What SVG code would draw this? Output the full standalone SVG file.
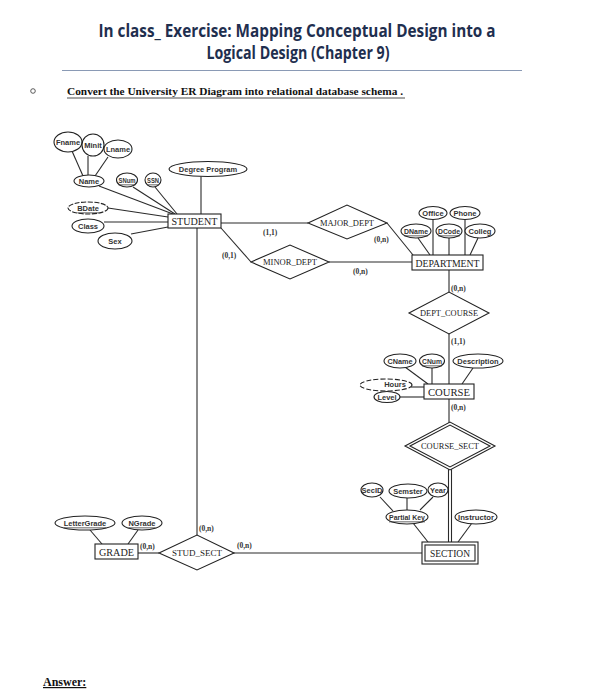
<svg xmlns="http://www.w3.org/2000/svg" width="594" height="700" viewBox="0 0 594 700">
<style>
.bg{fill:#ffffff}
.title{font-family:"Open Sans","Noto Sans","Liberation Sans",sans-serif;font-weight:700;font-size:17px;fill:#1f2f4f;text-anchor:middle}
.intro{font-family:"Liberation Serif",serif;font-weight:700;font-size:11px;fill:#111}
.ent rect{fill:#fff;stroke:#222;stroke-width:1.1}
.ent text{font-family:"Liberation Serif",serif;font-size:10.5px;fill:#222;text-anchor:middle;dominant-baseline:central}
.rel polygon{fill:#fff;stroke:#222;stroke-width:1.1}
.rel text{font-family:"Liberation Serif",serif;font-size:8px;fill:#222;text-anchor:middle;dominant-baseline:central}
.att ellipse{fill:#fff;stroke:#222;stroke-width:1.1}
.att text{font-family:"Liberation Sans",Arial,sans-serif;font-size:7.5px;font-weight:700;fill:#333;text-anchor:middle;dominant-baseline:central}
.key{text-decoration:underline}
.conn line{stroke:#2a2a2a;stroke-width:1.1;fill:none}
.card{font-family:"Liberation Serif",serif;font-size:7.5px;font-weight:700;fill:#333}
</style>
<rect class="bg" x="0" y="0" width="594" height="700"/>

<g id="header">
<text class="title" x="297" y="37" textLength="397" lengthAdjust="spacingAndGlyphs">In class_ Exercise: Mapping Conceptual Design into a</text>
<text class="title" x="298" y="59" textLength="183" lengthAdjust="spacingAndGlyphs">Logical Design (Chapter 9)</text>
<line x1="62" y1="70.5" x2="522" y2="70.5" stroke="#8a9ab5" stroke-width="1"/>
<circle cx="33" cy="91" r="2.3" fill="none" stroke="#333" stroke-width="0.8"/>
<text class="intro" x="67" y="95" textLength="336" lengthAdjust="spacingAndGlyphs">Convert the  University ER  Diagram  into relational database schema .</text>
<line x1="67" y1="98" x2="405" y2="98" stroke="#222" stroke-width="0.8"/>
</g>

<g id="connectors" class="conn">
<line x1="72" y1="151" x2="83" y2="176"/>
<line x1="88" y1="156" x2="88" y2="175"/>
<line x1="108" y1="157" x2="95" y2="176"/>
<line x1="99" y1="186" x2="173" y2="214"/>
<line x1="133" y1="187" x2="175" y2="214"/>
<line x1="155" y1="187" x2="177" y2="214"/>
<line x1="108" y1="208" x2="168" y2="217"/>
<line x1="104" y1="222" x2="168" y2="222"/>
<line x1="131" y1="234" x2="168" y2="227"/>
<line x1="201" y1="176" x2="201" y2="214"/>
<line x1="221" y1="223" x2="308" y2="223"/>
<line x1="221" y1="228" x2="251" y2="262"/>
<line x1="197" y1="228" x2="197" y2="535"/>
<line x1="387" y1="223" x2="413" y2="255"/>
<line x1="329" y1="262" x2="412" y2="262"/>
<line x1="433" y1="219" x2="433" y2="255"/>
<line x1="465" y1="219" x2="465" y2="255"/>
<line x1="418" y1="238" x2="430" y2="255"/>
<line x1="449" y1="238" x2="449" y2="255"/>
<line x1="478" y1="238" x2="470" y2="255"/>
<line x1="449" y1="270" x2="449" y2="292"/>
<line x1="449" y1="334" x2="449" y2="384"/>
<line x1="405" y1="367" x2="428" y2="384"/>
<line x1="432" y1="368" x2="432" y2="384"/>
<line x1="473" y1="368" x2="462" y2="384"/>
<line x1="411" y1="387" x2="424" y2="387"/>
<line x1="400" y1="397" x2="424" y2="397"/>
<line x1="449" y1="399" x2="449" y2="423"/>
<line x1="448.5" y1="468" x2="448.5" y2="542"/>
<line x1="451.5" y1="468" x2="451.5" y2="542"/>
<line x1="380" y1="497" x2="393" y2="511"/>
<line x1="407" y1="498" x2="407" y2="510"/>
<line x1="433" y1="497" x2="420" y2="510"/>
<line x1="413" y1="523" x2="428" y2="542"/>
<line x1="472" y1="523" x2="458" y2="542"/>
<line x1="233" y1="553" x2="422" y2="553"/>
<line x1="138" y1="553" x2="159" y2="553"/>
<line x1="90" y1="530" x2="102" y2="544"/>
<line x1="138" y1="530" x2="128" y2="544"/>
</g>

<g id="cardinalities">
<text class="card" x="263" y="235">(1,1)</text>
<text class="card" x="222" y="258">(0,1)</text>
<text class="card" x="374" y="242">(0,n)</text>
<text class="card" x="353" y="274">(0,n)</text>
<text class="card" x="451" y="291">(0,n)</text>
<text class="card" x="451" y="344">(1,1)</text>
<text class="card" x="451" y="410">(0,n)</text>
<text class="card" x="199" y="531">(0,n)</text>
<text class="card" x="237" y="548">(0,n)</text>
<text class="card" x="140" y="549">(0,n)</text>
</g>

<g id="student" class="ent"><rect x="168" y="214" width="53" height="14"/><text x="194.5" y="221.5" textLength="46" lengthAdjust="spacingAndGlyphs">STUDENT</text></g>
<g id="department" class="ent"><rect x="412" y="255" width="71" height="15"/><text x="447.5" y="263" textLength="64" lengthAdjust="spacingAndGlyphs">DEPARTMENT</text></g>
<g id="course" class="ent"><rect x="424" y="384" width="50" height="15"/><text x="449" y="392" textLength="42" lengthAdjust="spacingAndGlyphs">COURSE</text></g>
<g id="section" class="ent"><rect x="422" y="542" width="56" height="22"/><rect x="425" y="545" width="50" height="16"/><text x="450" y="553.5" textLength="40" lengthAdjust="spacingAndGlyphs">SECTION</text></g>
<g id="grade" class="ent"><rect x="95" y="544" width="43" height="15"/><text x="116.5" y="552" textLength="35" lengthAdjust="spacingAndGlyphs">GRADE</text></g>

<g id="major_dept" class="rel"><polygon points="308,223 347,205 387,223 347,239"/><text x="347" y="223" textLength="54" lengthAdjust="spacingAndGlyphs">MAJOR_DEPT</text></g>
<g id="minor_dept" class="rel"><polygon points="251,262 290,245 329,262 290,279"/><text x="290" y="262" textLength="54" lengthAdjust="spacingAndGlyphs">MINOR_DEPT</text></g>
<g id="dept_course" class="rel"><polygon points="409,313 449,292 489,313 449,334"/><text x="449" y="313" textLength="58" lengthAdjust="spacingAndGlyphs">DEPT_COURSE</text></g>
<g id="course_sect" class="rel"><polygon points="405,446 450,422 495,446 450,470"/><polygon points="410,446 450,425 490,446 450,467"/><text x="450" y="446" textLength="58" lengthAdjust="spacingAndGlyphs">COURSE_SECT</text></g>
<g id="stud_sect" class="rel"><polygon points="159,553 197,535 234,553 197,570"/><text x="197" y="553" textLength="50" lengthAdjust="spacingAndGlyphs">STUD_SECT</text></g>

<g id="fname" class="att"><ellipse cx="68" cy="142" rx="14" ry="10"/><text x="68" y="142">Fname</text></g>
<g id="minit" class="att"><ellipse cx="93" cy="145" rx="11" ry="11"/><text x="93" y="145">Minit</text></g>
<g id="lname" class="att"><ellipse cx="118" cy="149" rx="14" ry="9"/><text x="118" y="149">Lname</text></g>
<g id="name" class="att"><ellipse cx="89" cy="181" rx="15" ry="6"/><text x="89" y="181">Name</text></g>
<g id="snum" class="att"><ellipse cx="127" cy="180" rx="10.5" ry="7"/><text class="key" x="127" y="180" textLength="17" lengthAdjust="spacingAndGlyphs">SNum</text></g>
<g id="ssn" class="att"><ellipse cx="153" cy="180" rx="8" ry="7"/><text class="key" x="153" y="180" textLength="12" lengthAdjust="spacingAndGlyphs">SSN</text></g>
<g id="degree_program" class="att"><ellipse cx="208" cy="169" rx="39" ry="7.5"/><text x="208" y="169" font-size="8">Degree Program</text></g>
<g id="bdate" class="att"><ellipse cx="88" cy="208" rx="20" ry="6" stroke-dasharray="5 1.5"/><text class="key" x="88" y="208">BDate</text></g>
<g id="class" class="att"><ellipse cx="88" cy="226" rx="16" ry="7"/><text x="88" y="226">Class</text></g>
<g id="sex" class="att"><ellipse cx="115" cy="241" rx="17" ry="8"/><text x="115" y="241">Sex</text></g>

<g id="office" class="att"><ellipse cx="433" cy="213" rx="14" ry="6.5"/><text x="433" y="213">Office</text></g>
<g id="phone" class="att"><ellipse cx="465" cy="213" rx="15" ry="6.5"/><text x="465" y="213">Phone</text></g>
<g id="dname" class="att"><ellipse cx="416" cy="231" rx="15" ry="7"/><text class="key" x="416" y="231" textLength="24" lengthAdjust="spacingAndGlyphs">DName</text></g>
<g id="dcode" class="att"><ellipse cx="449" cy="231" rx="13" ry="7"/><text class="key" x="449" y="231" textLength="22" lengthAdjust="spacingAndGlyphs">DCode</text></g>
<g id="colleg" class="att"><ellipse cx="480" cy="231" rx="15" ry="7"/><text x="480" y="231">Colleg</text></g>

<g id="cname" class="att"><ellipse cx="400" cy="361" rx="16" ry="7"/><text x="400" y="361" textLength="25" lengthAdjust="spacingAndGlyphs">CName</text></g>
<g id="cnum" class="att"><ellipse cx="432" cy="361" rx="12.5" ry="7"/><text class="key" x="432" y="361" textLength="20" lengthAdjust="spacingAndGlyphs">CNum</text></g>
<g id="description" class="att"><ellipse cx="478" cy="361" rx="25" ry="7"/><text x="478" y="361">Description</text></g>
<g id="hours" class="att"><ellipse cx="386" cy="385" rx="26" ry="6" stroke-dasharray="5 2"/><text x="395" y="384">Hours</text></g>
<g id="level" class="att"><ellipse cx="387" cy="397" rx="13" ry="5.5" stroke-width="1.6"/><text x="387" y="397">Level</text></g>

<g id="secid" class="att"><ellipse cx="372" cy="490" rx="11" ry="7"/><text x="372" y="490" font-size="6.5">SecID</text></g>
<g id="semster" class="att"><ellipse cx="408" cy="491" rx="19" ry="7"/><text x="408" y="491">Semster</text></g>
<g id="year" class="att"><ellipse cx="438" cy="490" rx="10" ry="7"/><text x="438" y="490">Year</text></g>
<g id="partial_key" class="att"><ellipse cx="407" cy="517" rx="21" ry="7"/><text class="key" x="407" y="517" textLength="36" lengthAdjust="spacingAndGlyphs">Partial Key</text></g>
<g id="instructor" class="att"><ellipse cx="476" cy="517" rx="21" ry="7"/><text x="476" y="517" textLength="36" lengthAdjust="spacingAndGlyphs">Instructor</text></g>

<g id="lettergrade" class="att"><ellipse cx="85" cy="523" rx="30" ry="7"/><text class="key" x="85" y="523">LetterGrade</text></g>
<g id="ngrade" class="att"><ellipse cx="142" cy="523" rx="20" ry="7"/><text class="key" x="142" y="523">NGrade</text></g>

<g id="answer">
<text x="43" y="686" font-family="Liberation Serif,serif" font-weight="700" font-size="12" fill="#111" text-decoration="underline">Answer:</text>
</g>
</svg>
